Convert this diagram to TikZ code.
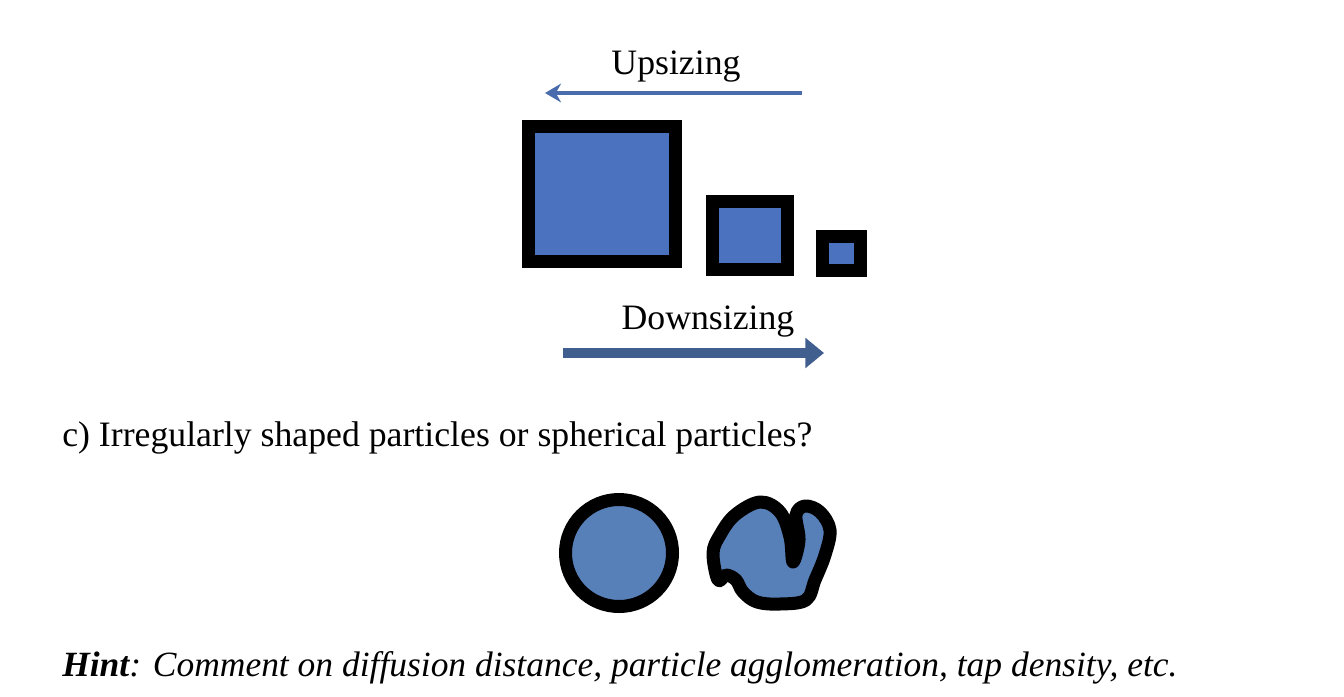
\documentclass[tikz,border=0pt]{standalone}
\usepackage{fontspec}
\setmainfont{Liberation Serif}
\usetikzlibrary{arrows.meta}
\definecolor{sqblue}{HTML}{4B72BE}
\definecolor{pblue}{HTML}{5880B8}
\definecolor{upblue}{HTML}{4A6CAC}
\definecolor{downblue}{HTML}{405F8E}
\tikzset{
  sq/.style={draw=black, fill=sqblue, line width=9.75pt},
  part/.style={draw=black, fill=pblue, line width=9.75pt, line join=round},
  txt/.style={inner sep=0pt, font=\fontsize{26.8}{31}\selectfont}
}
\begin{document}
\begin{tikzpicture}[x=0.75pt,y=-0.75pt]
\useasboundingbox (0,0) rectangle (1344,696);
\node[txt, anchor=base] (up) at (676,74) {Upsizing};
\coordinate (upA) at (802,93); \coordinate (upB) at (545,93);
\draw[upblue, line width=3.5pt, -{Stealth[length=12pt,width=14pt]}] (upA) -- (upB);
\draw[sq] (528.5,126.5) rectangle (675.5,261.5);
\draw[sq] (712.5,201.5) rectangle (787.5,269.5);
\draw[sq] (822.5,236.5) rectangle (860.5,270.5);
\node[txt, anchor=base] (down) at (708,329) {Downsizing};
\coordinate (dnA) at (563,353); \coordinate (dnB) at (824,353);
\draw[downblue, line width=8pt, -{Triangle[length=14pt,width=22pt]}] (dnA) -- (dnB);
\node[txt, anchor=base west] (q) at (62,446) {c) Irregularly shaped particles or spherical particles?};
\draw[part] (619,553) circle (53.5);
\draw[part] plot[smooth cycle, tension=0.6] coordinates {
 (713,553) (720,535) (735,515) (760,502) (780,512) (790,537) (793,562)
 (799,540) (796,515) (805,506) (820,512) (830,530) (825,555) (815,580)
 (806,600) (780,604) (757,602) (743,592) (736,580) (726,575) (718,580)};
\node[txt, anchor=base west, font=\fontsize{26.6}{31}\selectfont\itshape] (hint) at (62,676) {\textbf{Hint}: Comment on diffusion distance, particle agglomeration, tap density, etc.};
\end{tikzpicture}
\end{document}
